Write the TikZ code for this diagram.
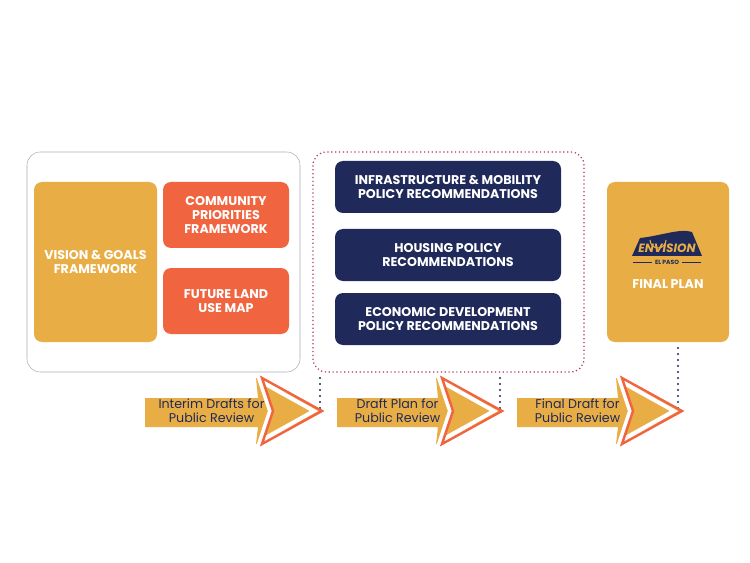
\documentclass[tikz,border=0pt]{standalone}
\usepackage{fontspec}
\usetikzlibrary{calc}
\setmainfont{Poppins}
\begin{document}
\definecolor{yel}{HTML}{E8AE45}
\definecolor{org}{HTML}{F0643F}
\definecolor{navy}{HTML}{1F2A5A}
\definecolor{mag}{HTML}{B03060}
\begin{tikzpicture}[x=0.75pt,y=-0.75pt,
  box/.style={rounded corners=6pt,text=white,font=\bfseries\fontsize{9.5}{10.5}\selectfont,align=center,inner sep=0pt},
  lbl/.style={font=\fontsize{9.5}{10.5}\selectfont,text=navy,align=center},
  dots/.style={navy,line width=1.6pt,dash pattern=on 0pt off 4.5pt,line cap=round}]
\useasboundingbox (0,0) rectangle (750,563);
\fill[white] (0,0) rectangle (750,563);
\draw[gray!60!navy!50,rounded corners=10pt] (27,152) rectangle (300,372);
\draw[mag,dotted,line width=0.9pt,rounded corners=10pt] (313,152) rectangle (584,372);
\node[box,fill=yel,minimum width=123pt*0.75,minimum height=160*0.75pt] (vis) at (95.5,262) {VISION \& GOALS\\FRAMEWORK};
\node[box,fill=org,minimum width=126*0.75pt,minimum height=66*0.75pt] (com) at (226,215) {COMMUNITY\\PRIORITIES\\FRAMEWORK};
\node[box,fill=org,minimum width=126*0.75pt,minimum height=66*0.75pt] (flu) at (226,301) {FUTURE LAND\\USE MAP};
\node[box,fill=navy,minimum width=226*0.75pt,minimum height=52*0.75pt] (inf) at (448,187) {INFRASTRUCTURE \& MOBILITY\\POLICY RECOMMENDATIONS};
\node[box,fill=navy,minimum width=226*0.75pt,minimum height=52*0.75pt] (hou) at (448,255) {HOUSING POLICY\\RECOMMENDATIONS};
\node[box,fill=navy,minimum width=226*0.75pt,minimum height=52*0.75pt] (eco) at (448,319) {ECONOMIC DEVELOPMENT\\POLICY RECOMMENDATIONS};
\node[box,fill=yel,minimum width=122*0.75pt,minimum height=160*0.75pt] (fin) at (668,262) {};
\node[box] (fint) at (668,284) {FINAL PLAN};
% logo
\fill[navy] (632,256) -- (640,238) .. controls (660,236) and (680,228) .. (692,232) -- (702,256) -- cycle;
\draw[yel,line width=0.8pt] (650,240) arc (180:0:8);
\foreach \a in {20,45,70,90,110,135,160}
  \draw[navy,line width=0.7pt] ($(658,240)+(\a:11)$) -- ($(658,240)+(\a:16)$);
\node[font=\bfseries\itshape\fontsize{9}{9}\selectfont,text=yel] (env) at (667,248) {ENVISION};
\node[font=\bfseries\fontsize{4.5}{5}\selectfont,text=navy] (elp) at (667,262) {EL PASO};
\draw[navy,line width=0.5pt] (633,262) -- (652,262) (682,262) -- (701,262);
% dots
\coordinate (d1a) at (320,378); \coordinate (d1b) at (320,410);
\coordinate (d2a) at (500,378); \coordinate (d2b) at (500,410);
\coordinate (d3a) at (678,348); \coordinate (d3b) at (678,410);
\draw[dots] (d1a) -- (d1b); \draw[dots] (d2a) -- (d2b); \draw[dots] (d3a) -- (d3b);
% arrows
\foreach \x/\bx/\t/\n in {145/258/{Interim Drafts for\\Public Review}/a1,337/438/{Draft Plan for\\Public Review}/a2,517/618/{Final Draft for\\Public Review}/a3}{
  \fill[yel] (\x,398) -- (\bx,398) -- (\bx-2,378) -- (\bx+64,411) -- (\bx-2,444) -- (\bx,427) -- (\x,427) -- cycle;
  \draw[white,line width=3pt,line join=miter] (\bx+2,381) -- (\bx+56,411) -- (\bx+2,441) -- (\bx+12,411) -- cycle;
  \draw[org,line width=1.8pt,line join=miter] (\bx+4,378) -- (\bx+64,411) -- (\bx+4,444) -- (\bx+15,411) -- cycle;
  \node[lbl] (\n) at ({(\x+\bx+20)/2},411) {\t};
}
\end{tikzpicture}
\end{document}
